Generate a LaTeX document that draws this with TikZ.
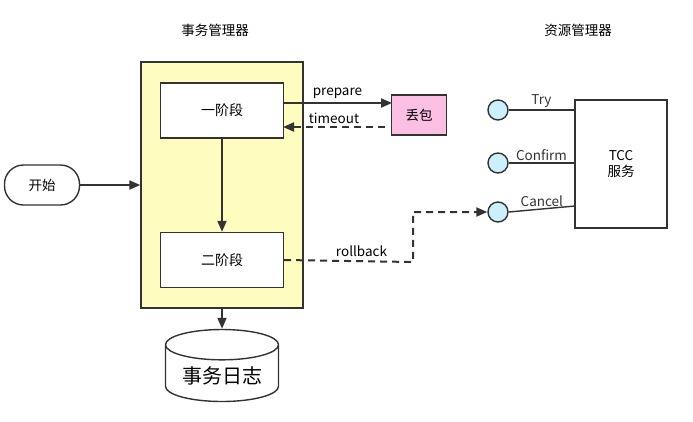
\documentclass[tikz,border=0pt]{standalone}
\usepackage{fontspec}
\setmainfont{Noto Sans CJK SC}
\usetikzlibrary{shapes.geometric,arrows.meta}
\begin{document}
\begin{tikzpicture}[x=1pt,y=-1pt,
  every path/.style={line width=1.4pt},
  box/.style={draw=black!80,fill=white,minimum width=123pt,minimum height=55pt,font=\fontsize{14}{16}\selectfont},
  lbl/.style={font=\fontsize{13.5}{16}\selectfont},
  port/.style={circle,draw=black!80,fill=cyan!20,minimum size=20pt,inner sep=0pt},
  arr/.style={-{Triangle[length=11pt,width=9pt]},draw=black!80,line width=2pt},
  dsh/.style={arr,dash pattern=on 7pt off 5pt}]
\useasboundingbox (0,0) rectangle (693,421);
\node[lbl] (t1) at (215,30) {事务管理器};
\node[lbl] (t2) at (578,30) {资源管理器};
\node[draw=black!80,fill=yellow!25,minimum width=162pt,minimum height=246pt] (tm) at (222,185) {};
\node[box] (p1) at (222,110.5) {一阶段};
\node[box] (p2) at (222,260) {二阶段};
\draw[arr] (p1) -- (p2);
\node[draw=black!80,rounded corners=19pt,minimum width=75pt,minimum height=40pt,lbl] (st) at (42,185) {开始};
\draw[arr] (st) -- (tm.west |- st);
\node[draw=black!80,fill=magenta!25,minimum width=55pt,minimum height=40pt,lbl] (lost) at (419,115) {丢包};
\coordinate (a1) at (283,103);
\coordinate (a2) at (392,103);
\draw[arr] (a1) -- node[above,lbl]{prepare} (a2);
\coordinate (b1) at (385,127);
\coordinate (b2) at (283,127);
\draw[dsh] (b1) -- node[above,lbl,yshift=-1pt]{timeout} (b2);
\node[draw=black!80,minimum width=92pt,minimum height=128pt,align=center,lbl] (tcc) at (621,164) {TCC\\服务};
\node[port] (c1) at (498,110) {};
\node[port] (c2) at (498,163) {};
\node[port] (c3) at (498,212) {};
\draw[black!80] (c1.east) -- node[above,lbl,yshift=-2pt]{Try} (c1.east -| tcc.west);
\draw[black!80] (c2.east) -- node[above,lbl,yshift=-2pt]{Confirm} (c2.east -| tcc.west);
\coordinate (c3e) at (575,206);
\draw[black!80] (c3.east) -- node[above,lbl,yshift=-2pt]{Cancel} (c3e);
\coordinate (r1) at (413,262);
\draw[dsh] (p2.east) -- node[above,lbl,pos=0.6]{rollback} (r1) -- (413,212) -- (c3.west);
\node[cylinder,shape border rotate=90,aspect=0.35,draw=black!80,minimum width=113pt,minimum height=72pt,font=\fontsize{20}{22}\selectfont] (log) at (222,376) {事务日志};
\draw[arr] (tm.south) -- (log.top);
\end{tikzpicture}
\end{document}
